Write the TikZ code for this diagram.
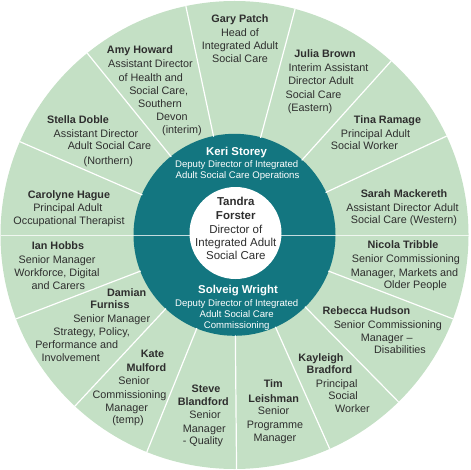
\documentclass[tikz,border=0pt]{standalone}
\usepackage{fontspec}
\setmainfont{Liberation Sans}
\definecolor{ringgreen}{RGB}{196,224,197}
\definecolor{tealring}{RGB}{19,118,128}
\definecolor{txtgray}{RGB}{46,46,46}
\tikzset{
  divider/.style={white, line width=1.2pt},
  ot/.style={font=\fontsize{10.8}{13}\selectfont, text=txtgray, inner sep=0pt, text height=7.7pt, text depth=0pt, anchor=center},
  on/.style={ot, font=\fontsize{10.8}{13}\selectfont\bfseries},
  wt/.style={font=\fontsize{9.6}{11}\selectfont, text=white, inner sep=0pt, text height=6.9pt, text depth=0pt, anchor=center},
  wn/.style={wt, font=\fontsize{11.4}{13}\selectfont\bfseries},
  ct/.style={font=\fontsize{11.5}{13}\selectfont, text=txtgray, inner sep=0pt, text height=8.2pt, text depth=0pt, anchor=center},
  cn/.style={ct, font=\fontsize{11.5}{13}\selectfont\bfseries}
}
\begin{document}
\begin{tikzpicture}[x=1pt,y=-1pt]
\useasboundingbox (0,0) rectangle (470,470);
\coordinate (C) at (234.5,235);
\coordinate (T) at (234.5,234.8);
\coordinate (W) at (235.5,233);
\fill[ringgreen] (C) circle[radius=234pt];
\fill[tealring] (T) circle[radius=101pt];
\foreach \a in {25,48,75,102,129,156.5,201,227,248,270.5,294,314.5,339}
  \draw[divider] ([shift={(\a:100.5pt)}]C) -- ([shift={(\a:234pt)}]C);
\coordinate (hl) at (0.5,235.8);
\coordinate (hr) at (468.5,235.8);
\draw[divider, opacity=0.75] (hl) -- (hr);
\fill[white] (W) circle[radius=46pt];

% Gary Patch
\node[on] (gp1) at (240,19) {Gary Patch};
\node[ot] (gp2) at (240,32.5) {Head of};
\node[ot] (gp3) at (240,46) {Integrated Adult};
\node[ot] (gp4) at (240,59) {Social Care};
% Julia Brown
\node[on] (jb1) at (325,54) {Julia Brown};
\node[ot] (jb2) at (328.5,67.7) {Interim Assistant};
\node[ot] (jb3) at (321,81) {Director Adult};
\node[ot] (jb4) at (313.5,94.3) {Social Care};
\node[ot] (jb5) at (310,107.7) {(Eastern)};
% Tina Ramage
\node[on] (tr1) at (387.5,120) {Tina Ramage};
\node[ot] (tr2) at (375.5,133.3) {Principal Adult};
\node[ot] (tr3) at (364.5,146) {Social Worker};
% Sarah Mackereth
\node[on] (sm1) at (404,194) {Sarah Mackereth};
\node[ot] (sm2) at (402.5,207.3) {Assistant Director Adult};
\node[ot] (sm3) at (404,220) {Social Care (Western)};
% Amy Howard
\node[on] (ah1) at (140,50) {Amy Howard};
\node[ot] (ah2) at (150.5,64) {Assistant Director};
\node[ot] (ah3) at (150.8,77.3) {of Health and};
\node[ot] (ah4) at (158.7,90.7) {Social Care,};
\node[ot] (ah5) at (160,103.3) {Southern};
\node[ot] (ah6) at (172,116.7) {Devon};
\node[ot] (ah7) at (182,130) {(interim)};
% Stella Doble
\node[on] (sd1) at (78,120) {Stella Doble};
\node[ot] (sd2) at (96,133.3) {Assistant Director};
\node[ot] (sd3) at (109.5,146) {Adult Social Care};
\node[ot] (sd4) at (108.3,160.7) {(Northern)};
% Carolyne Hague
\node[on] (ch1) at (69,195) {Carolyne Hague};
\node[ot] (ch2) at (67.8,208) {Principal Adult};
\node[ot] (ch3) at (69,221) {Occupational Therapist};
% Ian Hobbs
\node[on] (ih1) at (58,246) {Ian Hobbs};
\node[ot] (ih2) at (57,259.3) {Senior Manager};
\node[ot] (ih3) at (57,273) {Workforce, Digital};
\node[ot] (ih4) at (58.3,286) {and Carers};
% Damian Furniss
\node[on] (df1) at (126.7,292.3) {Damian};
\node[on] (df2) at (110,305) {Furniss};
\node[ot] (df3) at (111.7,318.3) {Senior Manager};
\node[ot] (df4) at (91.7,331.7) {Strategy, Policy,};
\node[ot] (df5) at (76.7,344.3) {Performance and};
\node[ot] (df6) at (70.8,357.7) {Involvement};
% Kate Mulford
\node[on] (km1) at (152.5,354) {Kate};
\node[on] (km2) at (146.3,367.3) {Mulford};
\node[ot] (km3) at (134,381) {Senior};
\node[ot] (km4) at (129.5,394.3) {Commissioning};
\node[ot] (km5) at (126.7,407.7) {Manager};
\node[ot] (km6) at (128,420) {(temp)};
% Steve Blandford
\node[on] (sb1) at (206,388.3) {Steve};
\node[on] (sb2) at (203.3,401.7) {Blandford};
\node[ot] (sb3) at (205,415) {Senior};
\node[ot] (sb4) at (204.3,428.3) {Manager};
\node[ot] (sb5) at (203,441) {- Quality};
% Tim Leishman
\node[on] (tl1) at (273.3,384) {Tim};
\node[on] (tl2) at (273.7,398.3) {Leishman};
\node[ot] (tl3) at (273.5,411) {Senior};
\node[ot] (tl4) at (275,424.3) {Programme};
\node[ot] (tl5) at (275,437.3) {Manager};
% Kayleigh Bradford
\node[on] (kb1) at (321,357.3) {Kayleigh};
\node[on] (kb2) at (329.5,370) {Bradford};
\node[ot] (kb3) at (336.7,383.3) {Principal};
\node[ot] (kb4) at (343,396) {Social};
\node[ot] (kb5) at (352.5,409) {Worker};
% Rebecca Hudson
\node[on] (rh1) at (366.5,311) {Rebecca Hudson};
\node[ot] (rh2) at (387.8,324.3) {Senior Commissioning};
\node[ot] (rh3) at (386.7,337.3) {Manager –};
\node[ot] (rh4) at (400,350) {Disabilities};
% Nicola Tribble
\node[on] (nt1) at (403,245) {Nicola Tribble};
\node[ot] (nt2) at (406,258.3) {Senior Commissioning};
\node[ot] (nt3) at (404.5,272.3) {Manager, Markets and};
\node[ot] (nt4) at (415.3,285) {Older People};

% Keri Storey
\node[wn] (ks1) at (236.5,151.7) {Keri Storey};
\node[wt] (ks2) at (236.7,164.3) {Deputy Director of Integrated};
\node[wt] (ks3) at (237.5,175.5) {Adult Social Care Operations};
% Solveig Wright
\node[wn] (sw1) at (238,290.5) {Solveig Wright};
\node[wt] (sw2) at (236.7,303.3) {Deputy Director of Integrated};
\node[wt] (sw3) at (236.7,314) {Adult Social Care};
\node[wt] (sw4) at (236.7,325.5) {Commissioning};
% Tandra Forster
\node[cn] (tf1) at (235.8,201.7) {Tandra};
\node[cn] (tf2) at (235.8,215.7) {Forster};
\node[ct] (tf3) at (235.8,229) {Director of};
\node[ct] (tf4) at (235.8,242.7) {Integrated Adult};
\node[ct] (tf5) at (235.8,255.7) {Social Care};
\end{tikzpicture}
\end{document}
